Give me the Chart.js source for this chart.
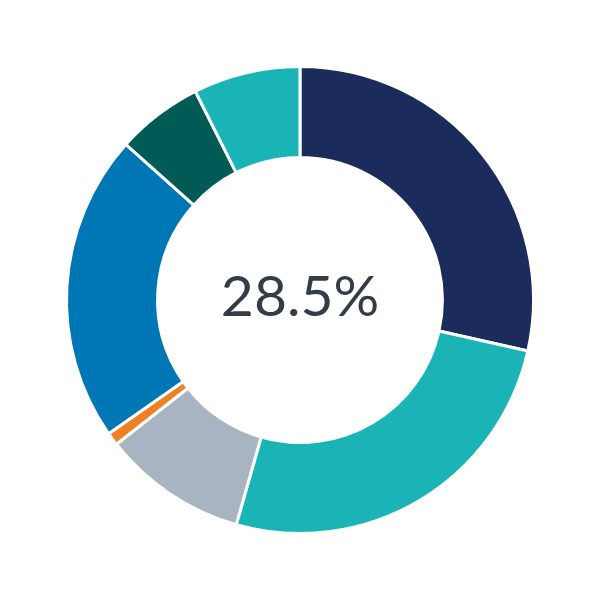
<!DOCTYPE html>
<html>
<head>
<meta charset="utf-8">
<script src="https://cdn.jsdelivr.net/npm/chart.js@4.4.0/dist/chart.umd.min.js"></script>
<style>
  html, body { margin: 0; padding: 0; background: #fff; }
  #wrap { width: 600px; height: 600px; }
</style>
</head>
<body>
<div id="wrap"><canvas id="donut" width="600" height="600"></canvas></div>
<script>
var labels = ['A', 'B', 'C', 'D', 'E', 'F', 'G'];
var values = [28.5, 25.9, 10.0, 0.9, 21.3, 6.0, 7.4];
var colors = ['#1b2b5b', '#1ab4b7', '#a9b4c2', '#f17f23', '#0077b5', '#005a55', '#1ab4b7'];
var centerText = '28.5%';

var centerLabel = {
    id: 'centerLabel',
    afterDraw: function (chart) {
        var meta = chart.getDatasetMeta(0).data[0];
        var ctx = chart.ctx;
        ctx.save();
        ctx.font = '57px Lato';
        ctx.fillStyle = '#333c48';
        ctx.textAlign = 'center';
        ctx.textBaseline = 'middle';
        ctx.fillText(centerText, meta.x, meta.y - 2);
        ctx.restore();
    }
};

new Chart(document.querySelector('#donut').getContext('2d'), {
    type: 'doughnut',
    data: {
        labels: labels,
        datasets: [{
            data: values,
            backgroundColor: colors,
            borderColor: '#ffffff',
            borderWidth: 3,
            hoverOffset: 0
        }]
    },
    options: {
        responsive: false,
        animation: false,
        cutout: '61%',
        layout: { padding: 65 },
        plugins: {
            legend: { display: false },
            tooltip: { enabled: false }
        }
    },
    plugins: [centerLabel]
});
</script>
</body>
</html>
